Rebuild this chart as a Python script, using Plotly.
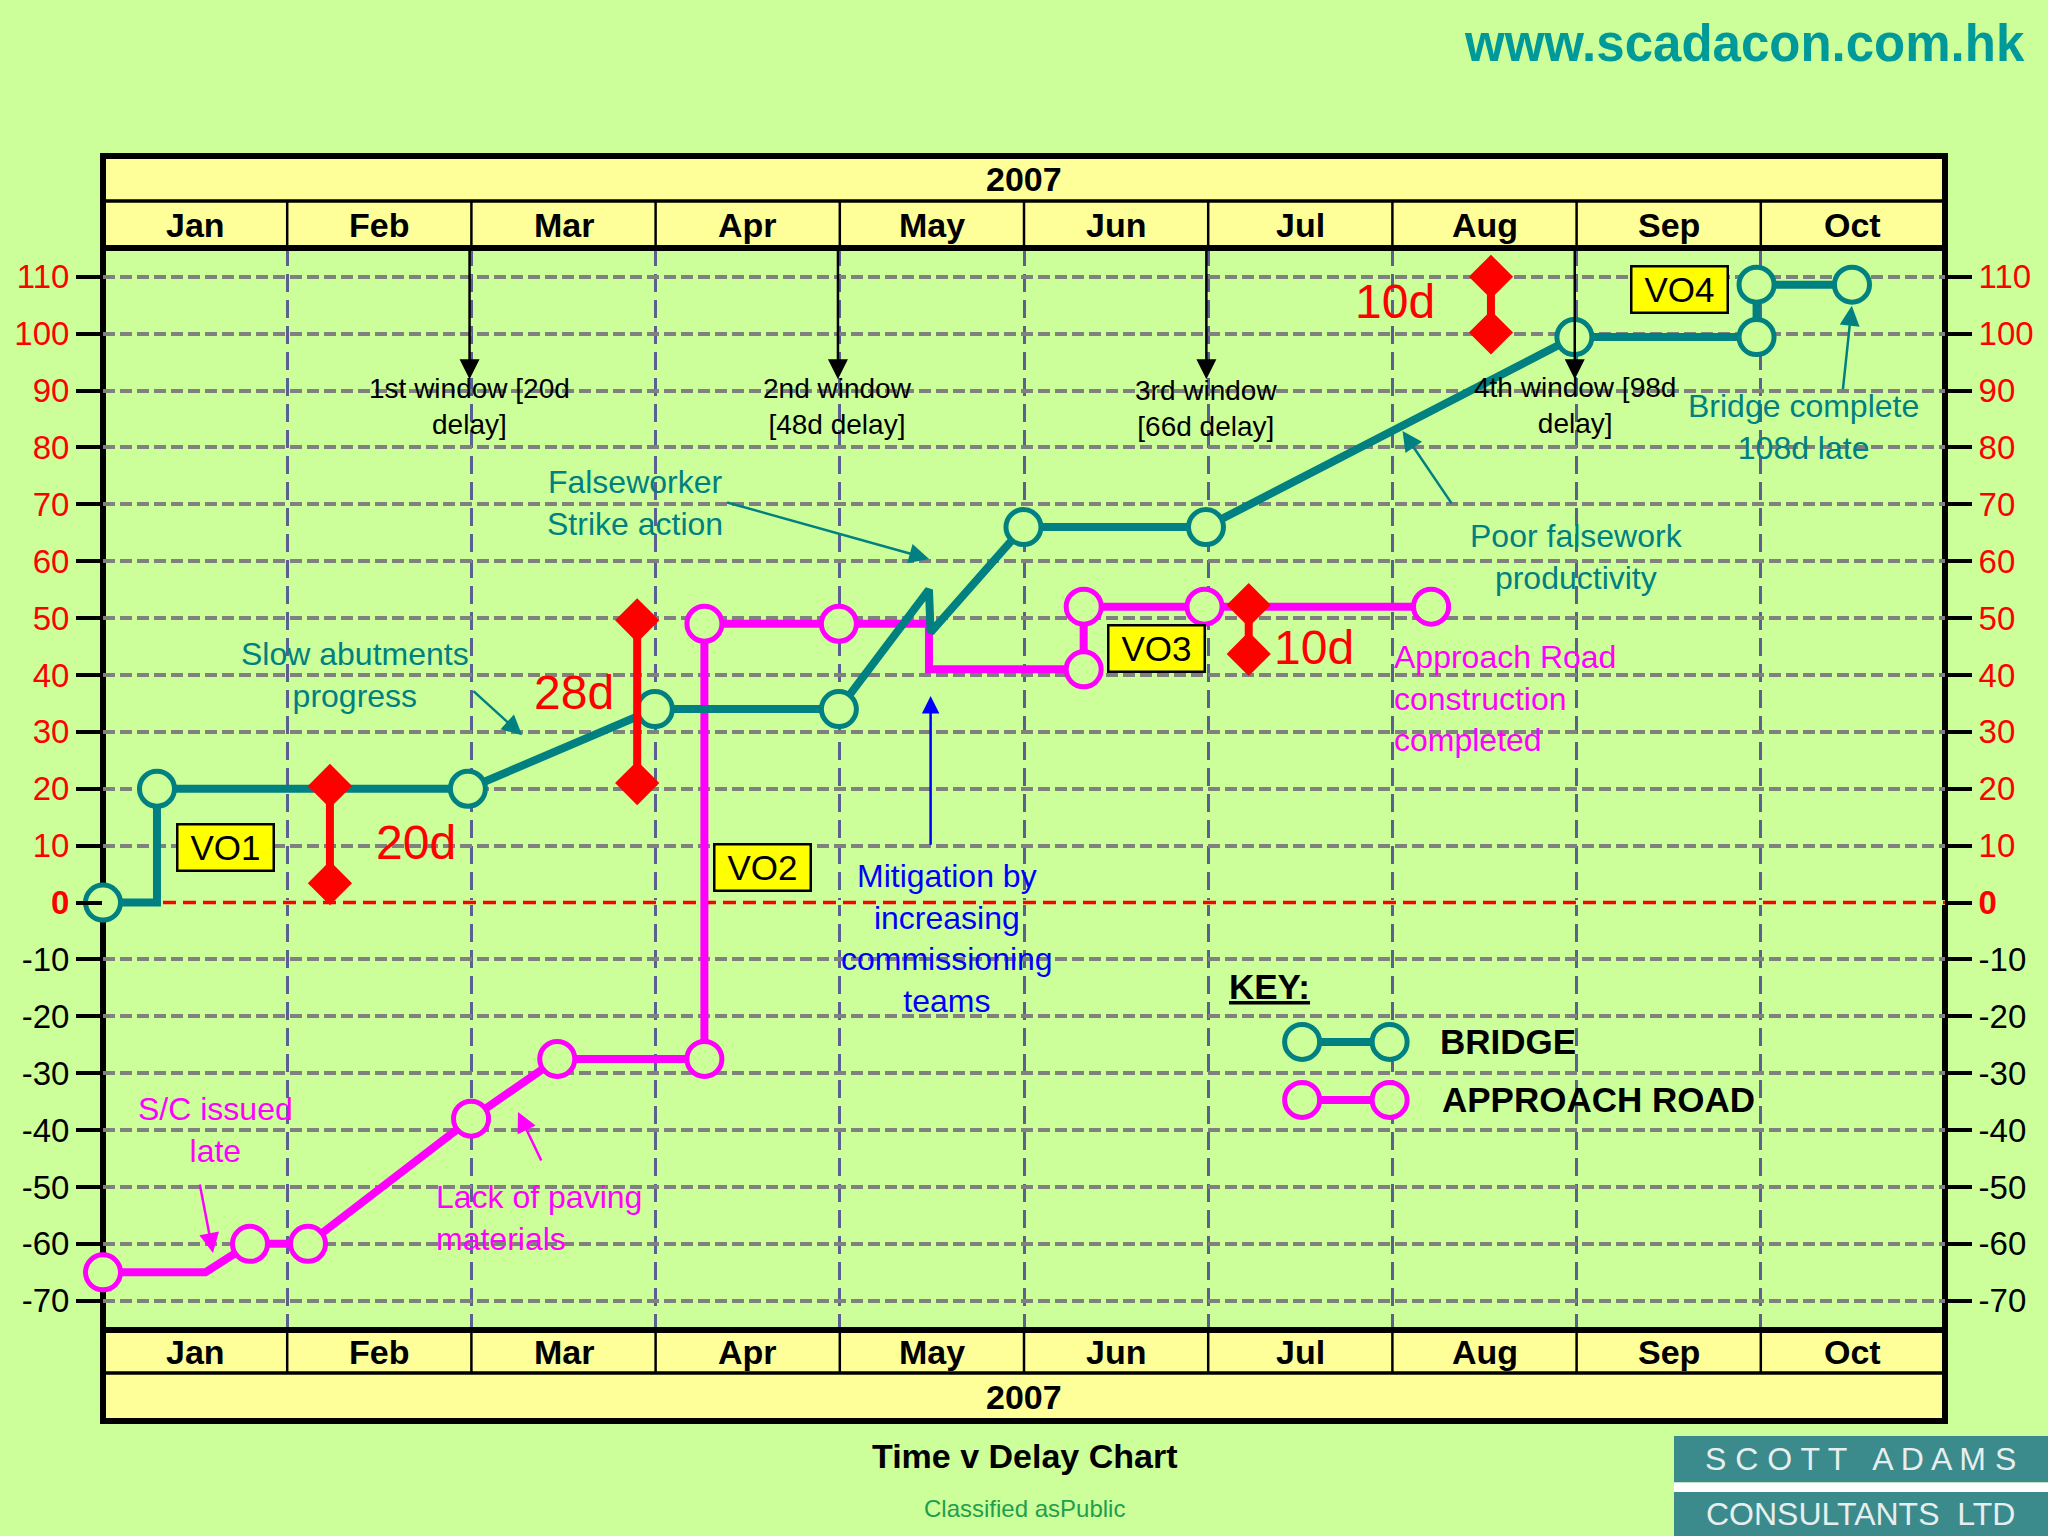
import plotly.graph_objects as go

# ---------------- data ----------------
months = ["Jan", "Feb", "Mar", "Apr", "May", "Jun", "Jul", "Aug", "Sep", "Oct"]
year_label = "2007"
delay_ticks = list(range(-70, 111, 10))

# Bridge: x in months from 1 Jan 2007, y = delay (days)
bridge_x = [0.0, 0.293, 0.293, 1.981, 2.996, 3.995, 4.484, 4.493, 4.997, 5.988, 7.988, 8.977, 8.977, 9.495]
bridge_y = [0, 0, 20, 20, 34, 34, 55, 47.5, 66, 66, 99.4, 99.4, 108.6, 108.6]
bridge_circle = [1, 0, 1, 1, 1, 1, 0, 0, 1, 1, 1, 1, 1, 1]

# Approach road
road_x = [0.0, 0.556, 0.798, 1.113, 1.998, 2.466, 3.265, 3.265, 3.995, 4.484, 4.484, 5.324, 5.324, 5.98, 7.21]
road_y = [-65, -65, -60, -60, -38, -27.5, -27.5, 49, 49, 49, 41, 41, 52, 52, 52]
road_circle = [1, 0, 1, 1, 1, 1, 1, 1, 1, 0, 0, 1, 1, 1, 1]

# Delay indicators (red diamonds)
delay_x = [1.232, 2.90, 6.22, 7.535]
delay_top = [20.5, 49.6, 52.3, 110.0]
delay_bottom = [3.4, 21.0, 43.7, 100.2]
delay_text = ["20d", "28d", "10d", "10d"]

# Window analysis markers
window_x = [1.99, 3.99, 5.99, 7.99]
window_text = ["1st window [20d<br>delay]", "2nd window<br>[48d delay]",
               "3rd window<br>[66d delay]", "4th window [98d<br>delay]"]

vo_labels = ["VO1", "VO2", "VO3", "VO4"]

# ---------------- styling ----------------
BG = "#CCFF99"
YEL = "#FFFF99"
TEAL = "#008080"
MAG = "#FF00FF"
RED = "#FF0000"
BLUE = "#0000FF"
FONT = "Liberation Sans, Arial, sans-serif"

W, H = 2048, 1536
ML, MR, MT, MB = 103, 103, 156, 115
PW, PH = W - ML - MR, H - MT - MB


def py(p):  # pixel y -> paper y
    return (H - MB - p) / PH


def px(p):  # pixel x -> paper x
    return (p - ML) / PW


Y_RANGE = [-75.14, 115.05]
X_RANGE = [0, len(months)]

fig = go.Figure()

# zero line (red dashed) with background under it to hide grid
fig.add_trace(go.Scatter(x=X_RANGE, y=[0, 0], mode="lines", line=dict(color=BG, width=5),
                         hoverinfo="skip", showlegend=False))
fig.add_trace(go.Scatter(x=X_RANGE, y=[0, 0], mode="lines",
                         line=dict(color=RED, width=3.5, dash="13px,7px"),
                         hoverinfo="skip", showlegend=False))

MK = dict(symbol="circle", size=35, color=BG)

# approach road
fig.add_trace(go.Scatter(x=road_x, y=road_y, mode="lines", line=dict(color=MAG, width=8),
                         hoverinfo="skip", showlegend=False, cliponaxis=False))
fig.add_trace(go.Scatter(x=[a for a, c in zip(road_x, road_circle) if c],
                         y=[b for b, c in zip(road_y, road_circle) if c],
                         mode="markers", marker=dict(**MK, line=dict(color=MAG, width=5)),
                         hoverinfo="skip", showlegend=False, cliponaxis=False))
# bridge
fig.add_trace(go.Scatter(x=bridge_x, y=bridge_y, mode="lines", line=dict(color=TEAL, width=8),
                         hoverinfo="skip", showlegend=False, cliponaxis=False))
fig.add_trace(go.Scatter(x=[a for a, c in zip(bridge_x, bridge_circle) if c],
                         y=[b for b, c in zip(bridge_y, bridge_circle) if c],
                         mode="markers", marker=dict(**MK, line=dict(color=TEAL, width=5)),
                         hoverinfo="skip", showlegend=False, cliponaxis=False))

# delay indicators
for dx, dt, db in zip(delay_x, delay_top, delay_bottom):
    fig.add_trace(go.Scatter(x=[dx, dx], y=[dt, db], mode="lines+markers",
                             line=dict(color=RED, width=8),
                             marker=dict(symbol="diamond", size=34, color=RED),
                             hoverinfo="skip", showlegend=False, cliponaxis=False))

# key samples
KEY_X = [6.51, 6.985]
for ky, col in [(-24.5, TEAL), (-34.7, MAG)]:
    fig.add_trace(go.Scatter(x=KEY_X, y=[ky, ky], mode="lines+markers",
                             line=dict(color=col, width=8),
                             marker=dict(**MK, line=dict(color=col, width=5)),
                             hoverinfo="skip", showlegend=False))

# invisible trace for the right axis
fig.add_trace(go.Scatter(x=[None], y=[None], yaxis="y2", showlegend=False, hoverinfo="skip"))

# ---------------- shapes ----------------
shapes = []
ytop_plot, ybot_plot = py(248), py(1330)
shapes.append(dict(type="rect", xref="paper", yref="paper", x0=0, x1=1, y0=ytop_plot, y1=1,
                   fillcolor=YEL, line=dict(width=0), layer="below"))
shapes.append(dict(type="rect", xref="paper", yref="paper", x0=0, x1=1, y0=0, y1=ybot_plot,
                   fillcolor=YEL, line=dict(width=0), layer="below"))
for yy, lw in [(py(201), 3.5), (ytop_plot, 6), (ybot_plot, 6), (py(1373), 3.5)]:
    shapes.append(dict(type="line", xref="paper", yref="paper", x0=0, x1=1, y0=yy, y1=yy,
                       line=dict(color="black", width=lw), layer="above"))
for k in range(1, len(months)):
    for y0, y1 in [(ytop_plot, py(201)), (py(1373), ybot_plot)]:
        shapes.append(dict(type="line", xref="x", yref="paper", x0=k, x1=k, y0=y0, y1=y1,
                           line=dict(color="black", width=2.5), layer="above"))
shapes.append(dict(type="rect", xref="paper", yref="paper", x0=0, x1=1, y0=0, y1=1,
                   line=dict(color="black", width=6), layer="below"))
# logo
LOGO = "#3B8A8C"
shapes.append(dict(type="rect", xref="paper", yref="paper", x0=px(1674), x1=px(2050),
                   y0=py(1482.5), y1=py(1436), fillcolor=LOGO, line=dict(width=0)))
shapes.append(dict(type="rect", xref="paper", yref="paper", x0=px(1674), x1=px(2050),
                   y0=py(1492), y1=py(1482.5), fillcolor="white", line=dict(width=0)))
shapes.append(dict(type="rect", xref="paper", yref="paper", x0=px(1674), x1=px(2050),
                   y0=py(1540), y1=py(1492), fillcolor=LOGO, line=dict(width=0)))

# ---------------- annotations ----------------
ann = []


def txt(x, y, text, size, color="black", xref="x", yref="y", xanchor="center", align="center", **kw):
    d = dict(x=x, y=y, xref=xref, yref=yref, text=text, showarrow=False,
             font=dict(family=FONT, size=size, color=color),
             xanchor=xanchor, yanchor="middle", align=align)
    d.update(kw)
    return d


def arrow(x, y, ax, ay, color, width=2.5, size=1.6):
    return dict(x=x, y=y, ax=ax, ay=ay, xref="x", yref="y", axref="x", ayref="y", text="",
                showarrow=True, arrowhead=2, arrowsize=size, arrowwidth=width,
                arrowcolor=color, standoff=0, startstandoff=0)


# header / footer text
for i, m in enumerate(months):
    ann.append(txt(i + 0.5, py(224.5), f"<b>{m}</b>", 34, yref="paper"))
    ann.append(txt(i + 0.5, py(1351.5), f"<b>{m}</b>", 34, yref="paper"))
ann.append(txt(len(months) / 2, py(178.5), f"<b>{year_label}</b>", 34, yref="paper"))
ann.append(txt(len(months) / 2, py(1397), f"<b>{year_label}</b>", 34, yref="paper"))

# window arrows + text
for wx, wt in zip(window_x, window_text):
    ann.append(arrow(wx, 92.0, wx, Y_RANGE[1], "black", width=2.5, size=1.6))
for wx, wt, wy in zip(window_x, window_text, [87.2, 87.2, 86.8, 87.4]):
    ann.append(txt(wx, wy, wt, 28))

# red delay labels
for t, (lx, ly) in zip(delay_text, [(1.70, 10.5), (2.555, 37.0), (6.575, 44.9), (7.016, 105.7)]):
    ann.append(txt(lx, ly, t, 48, RED))

# VO boxes
for v, (vx, vy) in zip(vo_labels, [(0.664, 9.6), (3.58, 6.2), (5.72, 44.6), (8.56, 107.7)]):
    ann.append(txt(vx, vy, v, 35, "black", bgcolor="#FFFF00", bordercolor="black",
                   borderwidth=2.5, borderpad=2, width=90, height=40))

# teal notes
ann.append(txt(2.89, 70.3, "Falseworker<br>Strike action", 32, TEAL))
ann.append(arrow(4.485, 60.4, 3.38, 70.4, TEAL))
ann.append(txt(1.37, 40.0, "Slow abutments<br>progress", 32, TEAL))
ann.append(arrow(2.275, 29.4, 2.003, 37.4, TEAL))
ann.append(txt(8.0, 60.8, "Poor falsework<br>productivity", 32, TEAL))
ann.append(arrow(7.055, 82.9, 7.327, 69.9, TEAL))
ann.append(txt(9.23, 83.5, "Bridge complete<br>108d late", 32, TEAL))
ann.append(arrow(9.494, 104.9, 9.445, 90.0, TEAL))

# magenta notes
ann.append(txt(0.61, -40.0, "S/C issued<br>late", 32, MAG))
ann.append(arrow(0.597, -61.6, 0.524, -49.3, MAG))
ann.append(txt(1.795, -55.5, "Lack of paving<br>materials", 32, MAG, xanchor="left", align="left"))
ann.append(arrow(2.253, -36.8, 2.383, -45.6, MAG))
ann.append(txt(7.0, 35.8, "Approach Road<br>construction<br>completed", 32, MAG,
               xanchor="left", align="left"))

# blue mitigation
ann.append(txt(4.58, -6.4, "Mitigation by<br>increasing<br>commissioning<br>teams", 32, BLUE))
ann.append(arrow(4.493, 36.3, 4.493, 9.9, BLUE, width=2.5, size=1.4))

# key
ann.append(txt(6.10, -14.7, "<b><u>KEY:</u></b>", 35, xanchor="left"))
ann.append(txt(7.245, -24.5, "<b>BRIDGE</b>", 35, xanchor="left"))
ann.append(txt(7.26, -34.7, "<b>APPROACH ROAD</b>", 35, xanchor="left"))

# outside texts
ann.append(txt(px(2027), py(43), "<b>www.scadacon.com.hk</b>", 51, "#009999",
               xref="paper", yref="paper", xanchor="right"))
ann.append(txt(px(1025), py(1456), "<b>Time v Delay Chart</b>", 34, xref="paper", yref="paper"))
ann.append(txt(px(1024), py(1508), "Classified asPublic", 24, "#1E9E4E", xref="paper", yref="paper"))
ann.append(txt(px(1860), py(1459), "S C O T T&nbsp;&nbsp; A D A M S", 32, "#E6EEEE",
               xref="paper", yref="paper"))
ann.append(txt(px(1860), py(1514), "CONSULTANTS&nbsp; LTD", 32, "#E6EEEE",
               xref="paper", yref="paper"))


def tick_txt(v):
    if v > 0:
        return f"<span style='color:{RED}'>{v}</span>"
    if v == 0:
        return f"<span style='color:{RED}'><b>0</b></span>"
    return str(v)


ticktext = [tick_txt(v) for v in delay_ticks]
yaxis_common = dict(range=Y_RANGE, domain=[ybot_plot, ytop_plot], tickmode="array",
                    tickvals=delay_ticks, ticktext=ticktext, ticks="outside", ticklen=26,
                    tickwidth=4, tickcolor="black", tickfont=dict(family=FONT, size=33, color="black"),
                    zeroline=False, showline=False, fixedrange=True)

fig.update_layout(
    width=W, height=H,
    margin=dict(l=ML, r=MR, t=MT, b=MB, autoexpand=False),
    paper_bgcolor=BG, plot_bgcolor=BG,
    font=dict(family=FONT),
    showlegend=False,
    xaxis=dict(range=X_RANGE, tickmode="array", tickvals=list(range(1, len(months))),
               showticklabels=False, ticks="", showgrid=True, gridcolor="#5A6190",
               gridwidth=2.5, griddash="18px,8px", zeroline=False, showline=False),
    yaxis=dict(**yaxis_common, side="left", showgrid=True, gridcolor="#808080",
               gridwidth=3.5, griddash="12px,5px"),
    yaxis2=dict(**yaxis_common, side="right", overlaying="y", anchor="x", showgrid=False),
    shapes=shapes,
    annotations=ann,
)

fig.write_html("out.html")
